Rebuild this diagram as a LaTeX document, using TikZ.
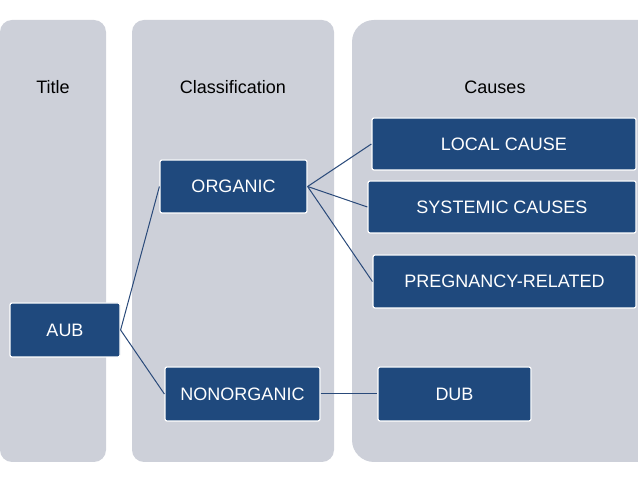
\documentclass[tikz,border=0pt]{standalone}
\usepackage{fontspec}
\setmainfont{Liberation Sans}
\definecolor{panel}{HTML}{CDD0D9}
\definecolor{boxc}{HTML}{1F497D}
\definecolor{linec}{HTML}{2A4A7A}
\begin{document}
\begin{tikzpicture}[x=1pt,y=-1pt,
  panel/.style={fill=panel,draw=none,rounded corners=12pt},
  box/.style={fill=boxc,draw=white,line width=1.2pt,rounded corners=2pt,text=white,font=\fontsize{18}{20}\selectfont,inner sep=0pt},
  head/.style={font=\fontsize{18}{20}\selectfont,text=black},
  conn/.style={draw=linec,line width=1pt}]
\useasboundingbox (0,0) rectangle (638,478);
\fill[panel] (0,20) rectangle (106,462);
\fill[panel,rounded corners=12pt] (132,20) rectangle (334,462);
\fill[panel,rounded corners=22pt] (352,20) rectangle (660,462);
\fill[white] (638,0) rectangle (670,478);
\node[head] (t1) at (53,87) {Title};
\node[head] (t2) at (233,87) {Classification};
\node[head] (t3) at (495,87) {Causes};
\node[box,minimum width=110,minimum height=54] (aub) at (65,330) {AUB};
\node[box,minimum width=147,minimum height=53] (org) at (233.5,186.5) {ORGANIC};
\node[box,minimum width=155,minimum height=54] (non) at (242.5,394) {NONORGANIC};
\node[box,minimum width=264,minimum height=52] (loc) at (504,144) {LOCAL CAUSE};
\node[box,minimum width=268,minimum height=52] (sys) at (502,207) {SYSTEMIC CAUSES};
\node[box,minimum width=263,minimum height=53] (pre) at (504.5,281.5) {PREGNANCY-RELATED};
\node[box,minimum width=153,minimum height=54] (dub) at (454.5,394) {DUB};
\draw[conn] (aub.east) -- (org.west);
\draw[conn] (aub.east) -- (non.west);
\draw[conn] (org.east) -- (loc.west);
\draw[conn] (org.east) -- (sys.west);
\draw[conn] (org.east) -- (pre.west);
\draw[conn] (non.east) -- (dub.west);
\end{tikzpicture}
\end{document}
